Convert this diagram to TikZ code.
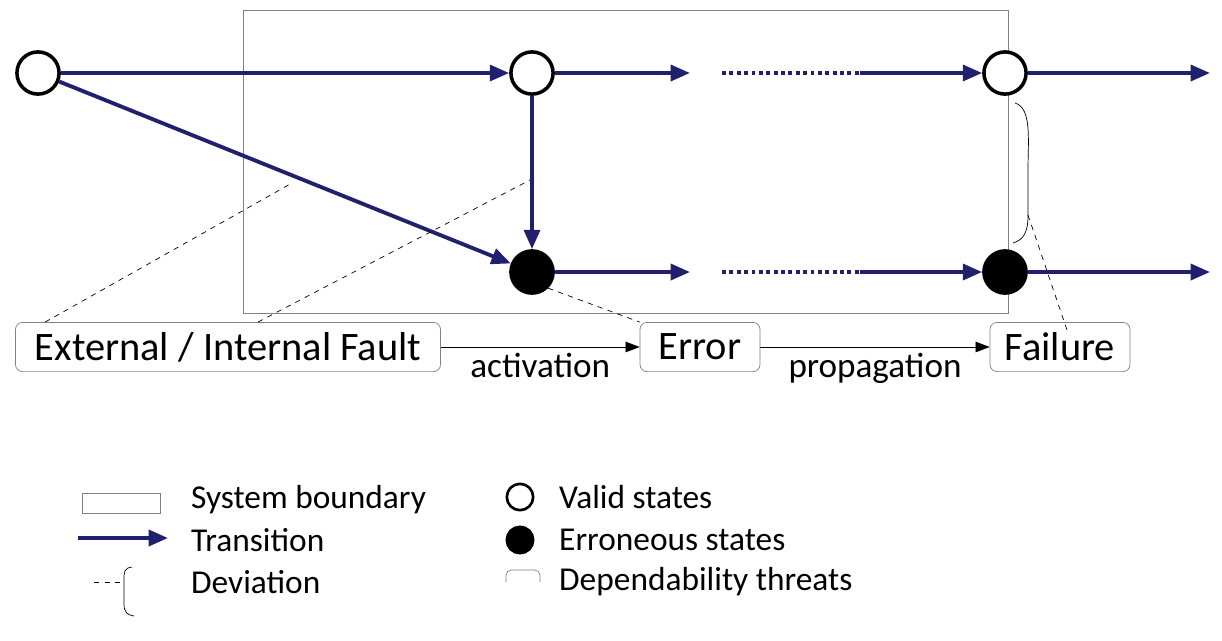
\documentclass[tikz,border=0pt]{standalone}
\usepackage{fontspec}
\setmainfont{Carlito}
\usetikzlibrary{arrows.meta,positioning}
\definecolor{navy}{RGB}{32,32,110}
\tikzset{
  trans/.style={navy, line width=2.2pt, -{Triangle[length=11pt,width=9pt]}},
  valid/.style={circle, draw, line width=2pt, fill=white, minimum size=24pt, inner sep=0pt},
  erron/.style={circle, draw, line width=2pt, fill=black, minimum size=24pt, inner sep=0pt},
  threat/.style={draw=gray, rounded corners=4pt, minimum height=28pt, inner sep=3pt, font=\fontsize{23}{26}\selectfont},
  dev/.style={dashed, thin},
  lbl/.style={font=\fontsize{19}{22}\selectfont, anchor=west}
}
\begin{document}
\begin{tikzpicture}[x=0.02cm, y=-0.02cm]
  \useasboundingbox (0,0) rectangle (1222,640);
  %System boundary
  \draw[gray] (243,10) rectangle (1008,313);
  %States
  \node[valid] (v0) at (38,73) {};
  \node[valid] (v1) at (532,73) {};
  \node[valid] (v2) at (1005,73) {};
  \node[erron] (e1) at (532,272) {};
  \node[erron] (e2) at (1005,272) {};
  \coordinate (vend) at (1210,73);
  \coordinate (eend) at (1210,272);
  %Transitions
  \draw[trans] (v0) -- (v1);
  \draw[trans] (v0) -- (e1);
  \draw[trans] (v1) -- (e1);
  \draw[trans] (v1) -- (690,73);
  \draw[navy, line width=2.2pt, dotted] (722,73) -- (872,73);
  \draw[trans] (860,73) -- (v2);
  \draw[trans] (v2) -- (vend);
  \draw[trans] (e1) -- (690,272);
  \draw[navy, line width=2.2pt, dotted] (722,272) -- (872,272);
  \draw[trans] (860,272) -- (e2);
  \draw[trans] (e2) -- (eend);
  %Threats
  \node[threat, minimum width=425*0.02cm] (fault) at (228,347) {External / Internal Fault};
  \node[threat, minimum width=120*0.02cm] (err) at (700,347) {Error};
  \node[threat, minimum width=140*0.02cm] (fail) at (1060,347) {Failure};
  \draw[-{Triangle[length=8pt,width=6pt]}] (fault) -- node[below, font=\fontsize{20}{23}\selectfont]{activation} (err);
  \draw[-{Triangle[length=8pt,width=6pt]}] (err) -- node[below, font=\fontsize{20}{23}\selectfont]{propagation} (fail);
  %Deviations
  \draw[dev] (fault.north west) ++(30,0) -- (292,183);
  \draw[dev] (fault.north) ++(30,0) -- (530,180);
  \draw[dev] (e1.south east) -- (err.north west);
  \draw (1015,103) .. controls (1032,108) and (1028,140) .. (1028,170) -- (1028,215)
        .. controls (1028,235) and (1022,240) .. (1013,243);
  \draw[dev] (1028,215) -- (1068,333);
  %Legend
  \draw[gray] (82,493) rectangle (160,513);
  \node[lbl] (lsys) at (185,500) {System boundary};
  \coordinate (ta) at (78,538);
  \coordinate (tb) at (168,538);
  \draw[trans] (ta) -- (tb);
  \node[lbl] (ltr) at (185,540) {Transition};
  \draw (132,567) .. controls (124,568) and (124,572) .. (124,580) -- (124,604)
        .. controls (124,612) and (127,615) .. (134,616);
  \draw[dev] (94,582) -- (124,582);
  \node[lbl] (ldev) at (185,582) {Deviation};
  \node[valid, minimum size=15pt, line width=1.5pt] (lv) at (520,497) {};
  \node[lbl] (lval) at (553,497) {Valid states};
  \node[erron, minimum size=15pt, line width=1.5pt] (le) at (520,540) {};
  \node[lbl] (lerr) at (553,540) {Erroneous states};
  \draw[gray, rounded corners=3pt] (506,582) -- (506,570) -- (540,570) -- (540,582);
  \node[lbl] (lthr) at (553,582) {Dependability threats};
\end{tikzpicture}
\end{document}
